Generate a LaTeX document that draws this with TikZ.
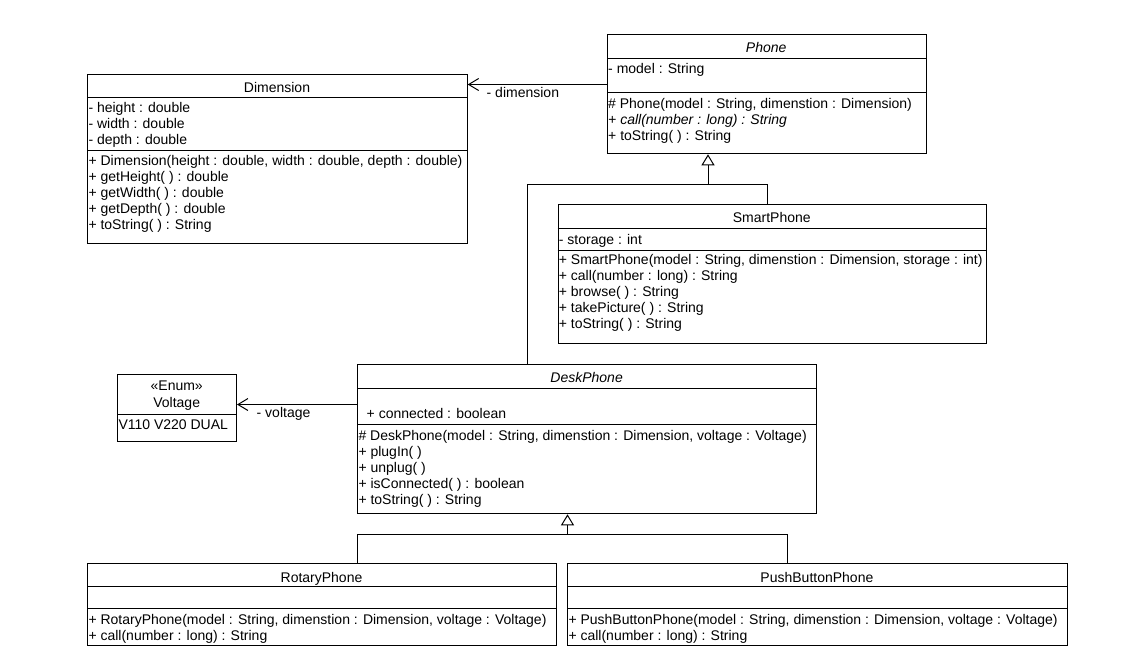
\documentclass[tikz,border=0pt]{standalone}
\usepackage{fontspec}
\setmainfont{Liberation Sans}
\usetikzlibrary{arrows.meta}
\tikzset{
  box/.style={draw, line width=1pt, inner sep=0pt, anchor=north west},
  sep/.style={line width=1pt},
  txt/.style={anchor=base west, inner sep=0pt, font=\fontsize{14}{16}\selectfont},
  ttl/.style={anchor=base, inner sep=0pt, font=\fontsize{14}{16}\selectfont},
  assoc/.style={line width=1pt, -{Straight Barb[length=10pt,width=12pt]}},
  gen/.style={line width=1pt, -{Triangle[open,length=11pt,width=13pt]}},
  link/.style={line width=1pt},
}
\newcommand\cls[5]{\node[box, minimum width={(#4-#2)*1pt}, minimum height={(#5-#3)*1pt}] (#1) at (#2,#3) {};}
\newcommand\divider[2]{\draw[sep] ([yshift=-#2pt]#1.north west) -- ([yshift=-#2pt]#1.north east);}
\newcommand\rows[4]{\foreach \t [count=\i from 0] in {#4} {\node[txt] (#1\i) at (#2,{#3+16*\i}) {\t};}}
\begin{document}
\begin{tikzpicture}[x=1pt,y=-1pt]
\fill[white] (0,0) rectangle (1134,658);
\useasboundingbox (0,0) rectangle (1134,658);

% Dimension
\cls{dim}{87.3}{74.3}{466.7}{243.3}
\divider{dim}{23}
\divider{dim}{75.7}
\node[ttl] (dimT) at (277,92.7) {Dimension};
\rows{dimA}{88.3}{112.7}{- height : double, - width : double, - depth : double}
\rows{dimM}{88.3}{165}{{+ Dimension(height : double, width : double, depth : double)}, + getHeight( ) : double, + getWidth( ) : double, + getDepth( ) : double, + toString( ) : String}

% Phone
\cls{phone}{607}{34}{925.5}{153.3}
\divider{phone}{24.3}
\divider{phone}{58.3}
\node[ttl] (phoneT) at (766.2,52.7) {\itshape Phone};
\node[txt] (phoneA) at (608,73.3) {- model : String};
\rows{phoneM}{608}{108.5}{{\# Phone(model : String, dimenstion : Dimension)}, {\itshape + call(number : long) : String}, + toString( ) : String}

% SmartPhone
\cls{sp}{557.7}{204.3}{986}{342.5}
\divider{sp}{24}
\divider{sp}{45.7}
\node[ttl] (spT) at (771.8,222.7) {SmartPhone};
\node[txt] (spA) at (558.7,244) {- storage : int};
\rows{spM}{558.7}{264.5}{{+ SmartPhone(model : String, dimenstion : Dimension, storage : int)}, + call(number : long) : String, + browse( ) : String, + takePicture( ) : String, + toString( ) : String}

% DeskPhone
\cls{desk}{357.3}{364}{816}{513.3}
\divider{desk}{24.3}
\divider{desk}{60.5}
\node[ttl] (deskT) at (586.6,382.5) {\itshape DeskPhone};
\node[txt] (deskA) at (366.5,418.5) {+ connected : boolean};
\rows{deskM}{358.3}{440}{{\# DeskPhone(model : String, dimenstion : Dimension, voltage : Voltage)}, + plugIn( ), + unplug( ), + isConnected( ) : boolean, + toString( ) : String}

% Voltage
\cls{volt}{117.3}{374.3}{236}{441}
\divider{volt}{39.7}
\node[ttl] (voltS) at (176.7,390.5) {«Enum»};
\node[ttl] (voltT) at (176.7,407) {Voltage};
\node[txt] (voltA) at (118.3,429) {V110 V220 DUAL};

% RotaryPhone
\cls{rot}{87.3}{563.3}{555.7}{645}
\divider{rot}{23.4}
\divider{rot}{45.2}
\node[ttl] (rotT) at (321.5,582) {RotaryPhone};
\rows{rotM}{88.3}{624}{{+ RotaryPhone(model : String, dimenstion : Dimension, voltage : Voltage)}, + call(number : long) : String}

% PushButtonPhone
\cls{push}{567.3}{563.3}{1066.5}{645}
\divider{push}{23.4}
\divider{push}{45.2}
\node[ttl] (pushT) at (816.9,582) {PushButtonPhone};
\rows{pushM}{568.3}{624}{{+ PushButtonPhone(model : String, dimenstion : Dimension, voltage : Voltage)}, + call(number : long) : String}

% associations
\draw[assoc] (phone.north west) ++(0,50.5) coordinate (pA) -- (pA -| dim.east);
\node[txt] (dimL) at (486.5,98) {- dimension};
\draw[assoc] (desk.north west) ++(0,40.5) coordinate (vA) -- (vA -| volt.east);
\node[txt] (voltL) at (256.5,417.5) {- voltage};

% generalizations
\coordinate (j1) at (708,184);
\draw[link] (sp.north west) ++(209.6,0) |- (j1);
\draw[link] (desk.north west) ++(170,0) |- (j1);
\draw[gen] (j1) -- (j1 |- phone.south);

\coordinate (j2) at (567.5,534.3);
\draw[gen] (j2) -- (j2 |- desk.south);
\draw[link] (rot.north west) ++(270,0) |- (j2);
\draw[link] (push.north west) ++(220,0) |- (j2);
\end{tikzpicture}
\end{document}
